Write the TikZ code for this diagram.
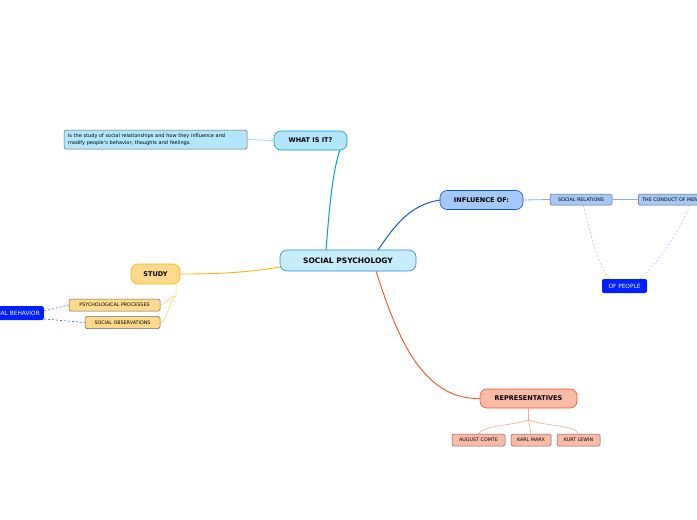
\documentclass[tikz,border=0pt]{standalone}
\usepackage{fontspec}
\setmainfont{DejaVu Sans}
\usetikzlibrary{backgrounds}
\begin{document}
\begin{tikzpicture}[x=1pt,y=-1pt,
 main/.style={draw=#1,line width=0.6pt,rounded corners=7pt,font=\bfseries\fontsize{6.5}{7}\selectfont,inner sep=0pt},
 sub/.style={draw=gray!80!black,line width=0.5pt,rounded corners=1.5pt,font=\fontsize{4.8}{5}\selectfont,inner sep=0pt},
 blu/.style={fill=blue!80!cyan!60!blue,rounded corners=2pt,font=\fontsize{5.8}{6}\selectfont,text=white,inner sep=0pt},
 dl/.style={dashed,dash pattern=on 2pt off 2pt,draw=#1}]
\useasboundingbox (0,0) rectangle (697,520);
\clip (0,0) rectangle (697,520);
\definecolor{cA}{HTML}{C6ECFB}\definecolor{cAd}{HTML}{2A8FD0}
\definecolor{cW}{HTML}{B3E5FC}\definecolor{cWd}{HTML}{039BE5}
\definecolor{cI}{HTML}{A4C8F8}\definecolor{cId}{HTML}{0B5CCB}
\definecolor{cS}{HTML}{FFD98C}\definecolor{cSd}{HTML}{FFB300}
\definecolor{cR}{HTML}{F9BBA5}\definecolor{cRd}{HTML}{F4511E}
\definecolor{cB}{HTML}{0033FF}
\node[main=cAd,fill=cA,minimum width=136pt,minimum height=21pt,font=\bfseries\fontsize{7.5}{8}\selectfont] (c) at (348,260.5) {SOCIAL PSYCHOLOGY};
\node[main=cWd,fill=cW,minimum width=73pt,minimum height=19pt] (w) at (310.5,140.5) {WHAT IS IT?};
\node[sub,fill=cW,text width=175pt,inner xsep=4pt,minimum height=19pt,align=left,font=\fontsize{5}{7.2}\selectfont] (d) at (155.5,139.5) {Is the study of social relationships and how they influence and\\modify people's behavior, thoughts and feelings.};
\node[main=cId,fill=cI,minimum width=83pt,minimum height=19pt] (i) at (481.5,200) {INFLUENCE OF:};
\node[sub,fill=cI,minimum width=62pt,minimum height=11pt] (sr) at (581,199.5) {SOCIAL RELATIONS};
\node[sub,fill=cI,inner xsep=4pt,minimum height=11pt,anchor=west] (tc) at (638,199.5) {THE CONDUCT OF MEN};
\node[blu,minimum width=45pt,minimum height=14pt] (op) at (624.5,286) {OF PEOPLE};
\node[main=cSd,fill=cS,minimum width=49pt,minimum height=20pt] (s) at (155.5,274) {STUDY};
\node[sub,fill=cS,minimum width=91pt,minimum height=12pt] (pp) at (114.5,305) {PSYCHOLOGICAL PROCESSES};
\node[sub,fill=cS,minimum width=75pt,minimum height=12pt] (so) at (122.5,322.5) {SOCIAL OBSERVATIONS};
\node[blu,inner xsep=4pt,minimum height=14pt,anchor=east] (sb) at (44,313) {SOCIAL BEHAVIOR};
\node[main=cRd,fill=cR,minimum width=97pt,minimum height=19pt] (r) at (528.5,398.5) {REPRESENTATIVES};
\node[sub,fill=cR,minimum width=53pt,minimum height=12pt] (r1) at (478.5,440) {AUGUST COMTE};
\node[sub,fill=cR,minimum width=40pt,minimum height=12pt] (r2) at (531,440) {KARL MARX};
\node[sub,fill=cR,minimum width=43pt,minimum height=12pt] (r3) at (578.5,440) {KURT LEWIN};
\begin{pgfonlayer}{background}
\draw[cWd,line width=1pt] (326,250) .. controls (330,200) and (333,170) .. (340,150);
\draw[cW!80!cWd,line width=0.8pt] (d.east) -- (w.west);
\draw[cId,line width=1pt] (378,250) .. controls (395,225) and (410,205) .. (i.west);
\draw[cI!80!cId,line width=0.8pt] (i.east) -- (sr.west) (sr.east) -- (tc.west);
\draw[dl=cB!40] (583,205) .. controls (595,250) and (600,270) .. (610,279);
\draw[dl=cB!40] (690,205) .. controls (675,240) and (655,265) .. (640,279);
\draw[cSd,line width=0.9pt] (280,267) .. controls (240,274) and (200,274) .. (s.east);
\draw[cSd!70,line width=0.5pt] (176,284) -- (176,296) .. controls (168,296) and (166,305) .. (pp.east);
\draw[cSd!70,line width=0.5pt] (176,296) .. controls (168,300) and (168,322) .. (so.east);
\draw[dl=cB!70!white,line width=0.7pt] (sb.east) ++(0,-2) -- (pp.west);
\draw[dl=cB!70!white,line width=0.7pt] (sb.east) ++(0,6) -- (so.west);
\draw[cRd,line width=0.9pt] (376,271) .. controls (395,330) and (420,400) .. (r.west);
\draw[cRd!50,line width=0.6pt] (r.south) -- (528.5,420) .. controls (510,426) and (485,425) .. (r1.north);
\draw[cRd!50,line width=0.6pt] (528.5,420) -- (r2.north);
\draw[cRd!50,line width=0.6pt] (528.5,420) .. controls (545,426) and (575,425) .. (r3.north);
\end{pgfonlayer}
\end{tikzpicture}
\end{document}
